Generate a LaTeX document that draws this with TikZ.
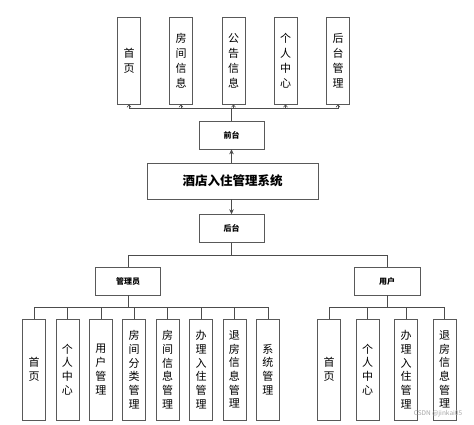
\documentclass[tikz,border=0pt]{standalone}
\usepackage{fontspec}
\setmainfont{Noto Sans CJK SC}
\usetikzlibrary{arrows.meta}

\begin{document}
\begin{tikzpicture}[x=1pt, y=-1pt,
		every node/.style={draw=black!65, line width=0.6pt, inner sep=0},
		topbox/.style={minimum width=23pt, minimum height=87pt, align=center, font=\fontsize{11}{15}\selectfont},
		lowbox/.style={minimum width=23pt, minimum height=101pt, align=center, font=\fontsize{11}{13.7}\selectfont},
		midbox/.style={minimum width=65pt, minimum height=28pt, font=\fontsize{8}{8}\selectfont\bfseries},
		link/.style={draw=black!70, line width=0.6pt},
		uparrow/.style={link, -{Straight Barb[length=2.5pt, width=4pt]}},
	]
	\useasboundingbox (0,0) rectangle (474,424);
	% main system
	\node[minimum width=171pt, minimum height=36pt, font=\fontsize{12.5}{12.5}\selectfont\bfseries] (system) at (232.5,181) {酒店入住管理系统};
	\node[midbox] (front) at (231.5,135) {前台};
	\node[midbox] (back) at (231.5,228.5) {后台};
	\draw[link, -{Stealth[length=5pt, width=4.5pt]}] (system.north -| front) -- (front.south);
	\draw[link, -{Stealth[length=5pt, width=4.5pt]}] (system.south -| back) -- (back.north);
	% front end modules
	\foreach \x/\t [count=\i] in {129/首\\页, 181/房\\间\\信\\息, 233.5/公\\告\\信\\息, 285.5/个\\人\\中\\心, 338/后\\台\\管\\理}{
		\node[topbox] (top\i) at (\x,60.5) {\t};
		\draw[uparrow] (front.north) -- ++(0,-12) -| (top\i.south);
	}
	% back end roles
	\node[midbox] (admin) at (128,281) {管理员};
	\node[midbox, minimum width=66pt] (user) at (387,281) {用户};
	\draw[link] (back.south) -- ++(0,12) -| (admin.north);
	\draw[link] (back.south) -- ++(0,12) -| (user.north);
	% admin modules
	\foreach \t [count=\i] in {首\\页, 个\\人\\中\\心, 用\\户\\管\\理, 房\\间\\分\\类\\管\\理, 房\\间\\信\\息\\管\\理, 办\\理\\入\\住\\管\\理, 退\\房\\信\\息\\管\\理, 系\\统\\管\\理}{
		\node[lowbox] (adm\i) at ({34+33.4*(\i-1)},369.5) {\t};
		\draw[link] (admin.south) -- ++(0,12) -| (adm\i.north);
	}
	% user modules
	\foreach \t [count=\i] in {首\\页, 个\\人\\中\\心, 办\\理\\入\\住\\管\\理, 退\\房\\信\\息\\管\\理}{
		\node[lowbox] (usr\i) at ({329+38.5*(\i-1)},369.5) {\t};
		\draw[link] (user.south) -- ++(0,12) -| (usr\i.north);
	}
	\node[draw=none, text=black!35, font=\fontsize{6.5}{6.5}\selectfont] (mark) at (438,414) {CSDN @jinkai05};
\end{tikzpicture}
\end{document}
